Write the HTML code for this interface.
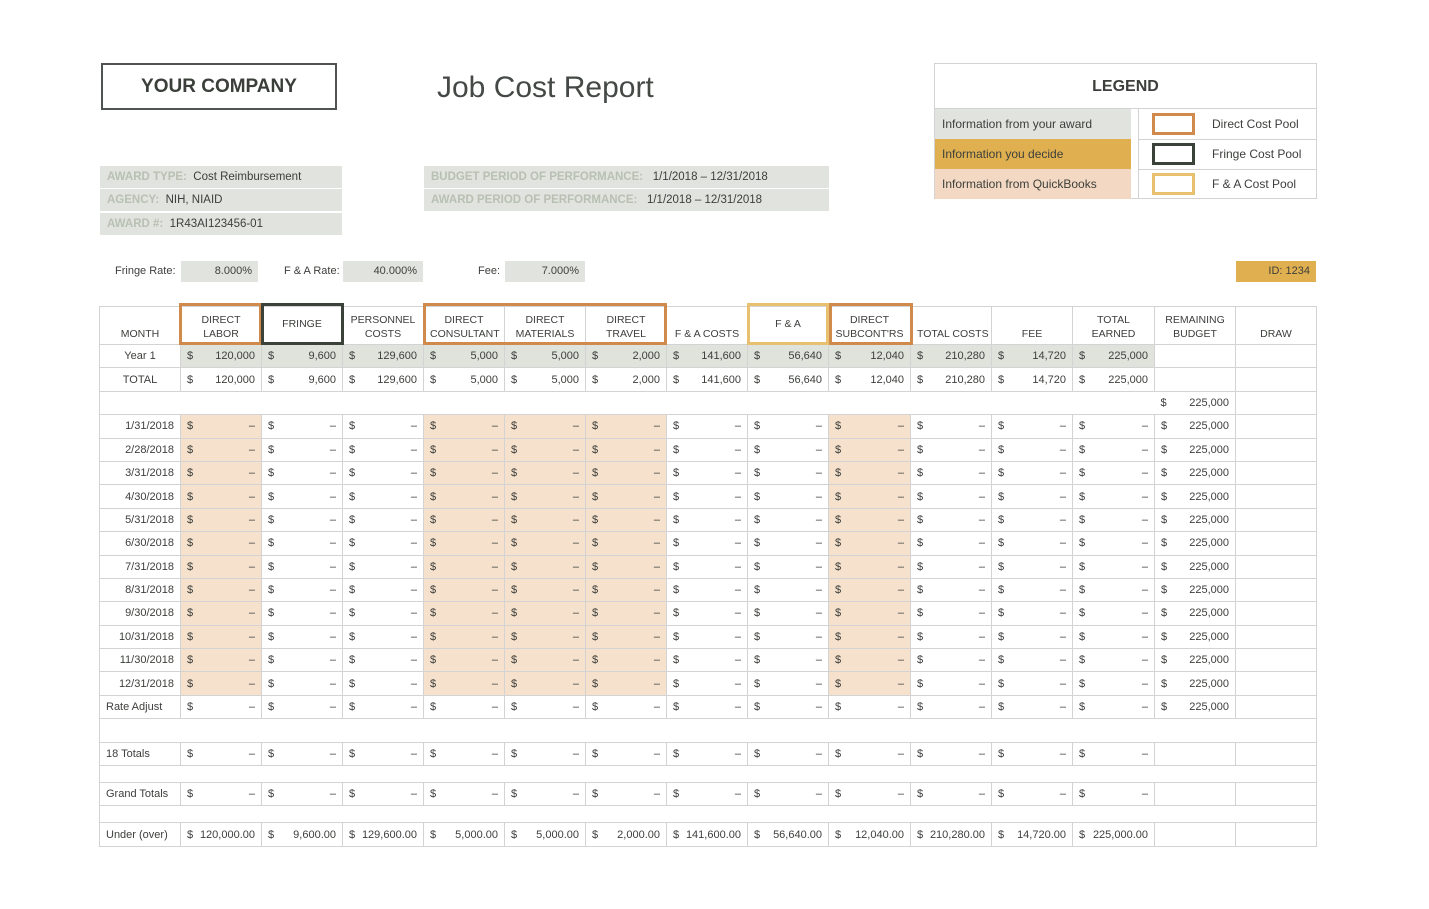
<!DOCTYPE html>
<html><head><meta charset="utf-8"><style>
*{box-sizing:border-box;margin:0;padding:0}
body{width:1429px;height:909px;background:#fff;position:relative;font-family:"Liberation Sans",sans-serif;color:#3c3f3b;overflow:hidden}
.abs{position:absolute}
.co{left:101px;top:63px;width:236px;height:47px;border:2px solid #505450;font-weight:bold;font-size:19px;text-align:center;line-height:43px;color:#3a3f3a}
.title{left:437px;top:71px;font-size:30px;color:#454945}
.info{background:#e1e3de;font-size:11.5px;line-height:22px;padding-left:7px;white-space:nowrap}
.info b{font-weight:bold;color:#b8c0b3}
.lbl{font-size:11px;line-height:21px}
.rb{background:#e1e3de;font-size:11px;line-height:21px;text-align:right;padding-right:6px}
table.m{position:absolute;left:99px;top:306px;width:1218px;border-collapse:collapse;table-layout:fixed;font-size:11px}
table.m td{border:1px solid #d3d3d3;text-align:right;padding:0 6px 0 6px;white-space:nowrap;overflow:hidden}
table.m td i{font-style:normal;float:left}
table.m td.l{text-align:left}
table.m td.c{text-align:center}
tr.h td{text-align:center;height:38px;font-size:10.5px;line-height:14px;vertical-align:bottom;padding-bottom:3px}
tr.r td{height:23.4px}
tr.g td.v{background:#dfe3dc}
td.p{background:#f6e1cd}
.box{position:absolute;border:3px solid #d08a4c}
.lg{left:934px;top:63px;width:383px;height:136px;border:1px solid #d3d3d3}
</style></head><body>
<div class="abs co">YOUR COMPANY</div>
<div class="abs title">Job Cost Report</div>

<div class="abs info" style="left:100px;top:166px;width:242px"><b>AWARD TYPE:</b>&nbsp; Cost Reimbursement</div>
<div class="abs info" style="left:100px;top:189px;width:242px"><b>AGENCY:</b>&nbsp; NIH, NIAID</div>
<div class="abs info" style="left:100px;top:213px;width:242px"><b>AWARD #:</b>&nbsp; 1R43AI123456-01</div>
<div class="abs info" style="left:424px;top:166px;width:405px"><b>BUDGET PERIOD OF PERFORMANCE:</b>&nbsp;&nbsp; 1/1/2018 – 12/31/2018</div>
<div class="abs info" style="left:424px;top:189px;width:405px"><b>AWARD PERIOD OF PERFORMANCE:</b>&nbsp;&nbsp; 1/1/2018 – 12/31/2018</div>

<div class="abs lbl" style="left:115px;top:261px">Fringe Rate:</div>
<div class="abs rb" style="left:181px;top:261px;width:77px">8.000%</div>
<div class="abs lbl" style="left:284px;top:261px">F &amp; A Rate:</div>
<div class="abs rb" style="left:343px;top:261px;width:80px">40.000%</div>
<div class="abs lbl" style="left:478px;top:261px">Fee:</div>
<div class="abs rb" style="left:505px;top:261px;width:80px">7.000%</div>
<div class="abs rb" style="left:1236px;top:261px;width:80px;background:#e0b050">ID: 1234</div>

<div class="abs lg">
 <div style="height:45px;text-align:center;line-height:45px;font-weight:bold;font-size:16px;border-bottom:1px solid #d3d3d3">LEGEND</div>
 <div class="abs" style="left:0;top:45px;width:196px;height:30px;background:#e1e3de;font-size:12px;line-height:30px;padding-left:7px">Information from your award</div>
 <div class="abs" style="left:0;top:75px;width:196px;height:30px;background:#e0b050;font-size:12px;line-height:30px;padding-left:7px">Information you decide</div>
 <div class="abs" style="left:0;top:105px;width:196px;height:30px;background:#f3d9c3;font-size:12px;line-height:30px;padding-left:7px">Information from QuickBooks</div>
 <div class="abs" style="left:203px;top:45px;width:1px;height:90px;background:#d3d3d3"></div>
 <div class="abs" style="left:203px;top:75px;width:179px;height:1px;background:#d3d3d3"></div>
 <div class="abs" style="left:203px;top:105px;width:179px;height:1px;background:#d3d3d3"></div>
 <div class="abs" style="left:217px;top:49px;width:43px;height:22px;border:3px solid #d08a4c"></div>
 <div class="abs" style="left:217px;top:79px;width:43px;height:22px;border:3px solid #3a4239"></div>
 <div class="abs" style="left:217px;top:109px;width:43px;height:22px;border:3px solid #e8c170"></div>
 <div class="abs" style="left:277px;top:45px;font-size:12px;line-height:30px">Direct Cost Pool</div>
 <div class="abs" style="left:277px;top:75px;font-size:12px;line-height:30px">Fringe Cost Pool</div>
 <div class="abs" style="left:277px;top:105px;font-size:12px;line-height:30px">F &amp; A Cost Pool</div>
</div>

<table class="m">
<colgroup><col style="width:81px"><col style="width:81px"><col style="width:81px"><col style="width:81px"><col style="width:81px"><col style="width:81px"><col style="width:81px"><col style="width:81px"><col style="width:81px"><col style="width:82px"><col style="width:81px"><col style="width:81px"><col style="width:82px"><col style="width:81px"><col style="width:81px"></colgroup>
<tr class="h"><td>MONTH</td><td>DIRECT<br>LABOR</td><td style="vertical-align:middle">FRINGE</td><td>PERSONNEL<br>COSTS</td><td>DIRECT<br>CONSULTANT</td><td>DIRECT<br>MATERIALS</td><td>DIRECT<br>TRAVEL</td><td>F &amp; A COSTS</td><td style="vertical-align:middle">F &amp; A</td><td>DIRECT<br>SUBCONT'RS</td><td>TOTAL COSTS</td><td>FEE</td><td>TOTAL<br>EARNED</td><td>REMAINING<br>BUDGET</td><td>DRAW</td></tr>
<tr class="r g"><td class="c">Year 1</td><td class="v"><i>$</i>120,000</td><td class="v"><i>$</i>9,600</td><td class="v"><i>$</i>129,600</td><td class="v"><i>$</i>5,000</td><td class="v"><i>$</i>5,000</td><td class="v"><i>$</i>2,000</td><td class="v"><i>$</i>141,600</td><td class="v"><i>$</i>56,640</td><td class="v"><i>$</i>12,040</td><td class="v"><i>$</i>210,280</td><td class="v"><i>$</i>14,720</td><td class="v"><i>$</i>225,000</td><td></td><td></td></tr>
<tr class="r"><td class="c">TOTAL</td><td><i>$</i>120,000</td><td><i>$</i>9,600</td><td><i>$</i>129,600</td><td><i>$</i>5,000</td><td><i>$</i>5,000</td><td><i>$</i>2,000</td><td><i>$</i>141,600</td><td><i>$</i>56,640</td><td><i>$</i>12,040</td><td><i>$</i>210,280</td><td><i>$</i>14,720</td><td><i>$</i>225,000</td><td></td><td></td></tr>
<tr class="r"><td colspan="13" style="border-left:1px solid #d3d3d3;border-right:none"></td><td style="border-left:none"><i>$</i>225,000</td><td></td></tr>
<tr class="r"><td>1/31/2018</td><td class="p"><i>$</i>–</td><td><i>$</i>–</td><td><i>$</i>–</td><td class="p"><i>$</i>–</td><td class="p"><i>$</i>–</td><td class="p"><i>$</i>–</td><td><i>$</i>–</td><td><i>$</i>–</td><td class="p"><i>$</i>–</td><td><i>$</i>–</td><td><i>$</i>–</td><td><i>$</i>–</td><td><i>$</i>225,000</td><td></td></tr>
<tr class="r"><td>2/28/2018</td><td class="p"><i>$</i>–</td><td><i>$</i>–</td><td><i>$</i>–</td><td class="p"><i>$</i>–</td><td class="p"><i>$</i>–</td><td class="p"><i>$</i>–</td><td><i>$</i>–</td><td><i>$</i>–</td><td class="p"><i>$</i>–</td><td><i>$</i>–</td><td><i>$</i>–</td><td><i>$</i>–</td><td><i>$</i>225,000</td><td></td></tr>
<tr class="r"><td>3/31/2018</td><td class="p"><i>$</i>–</td><td><i>$</i>–</td><td><i>$</i>–</td><td class="p"><i>$</i>–</td><td class="p"><i>$</i>–</td><td class="p"><i>$</i>–</td><td><i>$</i>–</td><td><i>$</i>–</td><td class="p"><i>$</i>–</td><td><i>$</i>–</td><td><i>$</i>–</td><td><i>$</i>–</td><td><i>$</i>225,000</td><td></td></tr>
<tr class="r"><td>4/30/2018</td><td class="p"><i>$</i>–</td><td><i>$</i>–</td><td><i>$</i>–</td><td class="p"><i>$</i>–</td><td class="p"><i>$</i>–</td><td class="p"><i>$</i>–</td><td><i>$</i>–</td><td><i>$</i>–</td><td class="p"><i>$</i>–</td><td><i>$</i>–</td><td><i>$</i>–</td><td><i>$</i>–</td><td><i>$</i>225,000</td><td></td></tr>
<tr class="r"><td>5/31/2018</td><td class="p"><i>$</i>–</td><td><i>$</i>–</td><td><i>$</i>–</td><td class="p"><i>$</i>–</td><td class="p"><i>$</i>–</td><td class="p"><i>$</i>–</td><td><i>$</i>–</td><td><i>$</i>–</td><td class="p"><i>$</i>–</td><td><i>$</i>–</td><td><i>$</i>–</td><td><i>$</i>–</td><td><i>$</i>225,000</td><td></td></tr>
<tr class="r"><td>6/30/2018</td><td class="p"><i>$</i>–</td><td><i>$</i>–</td><td><i>$</i>–</td><td class="p"><i>$</i>–</td><td class="p"><i>$</i>–</td><td class="p"><i>$</i>–</td><td><i>$</i>–</td><td><i>$</i>–</td><td class="p"><i>$</i>–</td><td><i>$</i>–</td><td><i>$</i>–</td><td><i>$</i>–</td><td><i>$</i>225,000</td><td></td></tr>
<tr class="r"><td>7/31/2018</td><td class="p"><i>$</i>–</td><td><i>$</i>–</td><td><i>$</i>–</td><td class="p"><i>$</i>–</td><td class="p"><i>$</i>–</td><td class="p"><i>$</i>–</td><td><i>$</i>–</td><td><i>$</i>–</td><td class="p"><i>$</i>–</td><td><i>$</i>–</td><td><i>$</i>–</td><td><i>$</i>–</td><td><i>$</i>225,000</td><td></td></tr>
<tr class="r"><td>8/31/2018</td><td class="p"><i>$</i>–</td><td><i>$</i>–</td><td><i>$</i>–</td><td class="p"><i>$</i>–</td><td class="p"><i>$</i>–</td><td class="p"><i>$</i>–</td><td><i>$</i>–</td><td><i>$</i>–</td><td class="p"><i>$</i>–</td><td><i>$</i>–</td><td><i>$</i>–</td><td><i>$</i>–</td><td><i>$</i>225,000</td><td></td></tr>
<tr class="r"><td>9/30/2018</td><td class="p"><i>$</i>–</td><td><i>$</i>–</td><td><i>$</i>–</td><td class="p"><i>$</i>–</td><td class="p"><i>$</i>–</td><td class="p"><i>$</i>–</td><td><i>$</i>–</td><td><i>$</i>–</td><td class="p"><i>$</i>–</td><td><i>$</i>–</td><td><i>$</i>–</td><td><i>$</i>–</td><td><i>$</i>225,000</td><td></td></tr>
<tr class="r"><td>10/31/2018</td><td class="p"><i>$</i>–</td><td><i>$</i>–</td><td><i>$</i>–</td><td class="p"><i>$</i>–</td><td class="p"><i>$</i>–</td><td class="p"><i>$</i>–</td><td><i>$</i>–</td><td><i>$</i>–</td><td class="p"><i>$</i>–</td><td><i>$</i>–</td><td><i>$</i>–</td><td><i>$</i>–</td><td><i>$</i>225,000</td><td></td></tr>
<tr class="r"><td>11/30/2018</td><td class="p"><i>$</i>–</td><td><i>$</i>–</td><td><i>$</i>–</td><td class="p"><i>$</i>–</td><td class="p"><i>$</i>–</td><td class="p"><i>$</i>–</td><td><i>$</i>–</td><td><i>$</i>–</td><td class="p"><i>$</i>–</td><td><i>$</i>–</td><td><i>$</i>–</td><td><i>$</i>–</td><td><i>$</i>225,000</td><td></td></tr>
<tr class="r"><td>12/31/2018</td><td class="p"><i>$</i>–</td><td><i>$</i>–</td><td><i>$</i>–</td><td class="p"><i>$</i>–</td><td class="p"><i>$</i>–</td><td class="p"><i>$</i>–</td><td><i>$</i>–</td><td><i>$</i>–</td><td class="p"><i>$</i>–</td><td><i>$</i>–</td><td><i>$</i>–</td><td><i>$</i>–</td><td><i>$</i>225,000</td><td></td></tr>
<tr class="r"><td class="l">Rate Adjust</td><td><i>$</i>–</td><td><i>$</i>–</td><td><i>$</i>–</td><td><i>$</i>–</td><td><i>$</i>–</td><td><i>$</i>–</td><td><i>$</i>–</td><td><i>$</i>–</td><td><i>$</i>–</td><td><i>$</i>–</td><td><i>$</i>–</td><td><i>$</i>–</td><td><i>$</i>225,000</td><td></td></tr>
<tr class="r"><td colspan="15"></td></tr>
<tr class="r"><td class="l">18 Totals</td><td><i>$</i>–</td><td><i>$</i>–</td><td><i>$</i>–</td><td><i>$</i>–</td><td><i>$</i>–</td><td><i>$</i>–</td><td><i>$</i>–</td><td><i>$</i>–</td><td><i>$</i>–</td><td><i>$</i>–</td><td><i>$</i>–</td><td><i>$</i>–</td><td></td><td></td></tr>
<tr><td colspan="15" style="height:17px"></td></tr>
<tr class="r"><td class="l">Grand Totals</td><td><i>$</i>–</td><td><i>$</i>–</td><td><i>$</i>–</td><td><i>$</i>–</td><td><i>$</i>–</td><td><i>$</i>–</td><td><i>$</i>–</td><td><i>$</i>–</td><td><i>$</i>–</td><td><i>$</i>–</td><td><i>$</i>–</td><td><i>$</i>–</td><td></td><td></td></tr>
<tr><td colspan="15" style="height:17px"></td></tr>
<tr class="r"><td class="l">Under (over)</td><td><i>$</i>120,000.00</td><td><i>$</i>9,600.00</td><td><i>$</i>129,600.00</td><td><i>$</i>5,000.00</td><td><i>$</i>5,000.00</td><td><i>$</i>2,000.00</td><td><i>$</i>141,600.00</td><td><i>$</i>56,640.00</td><td><i>$</i>12,040.00</td><td><i>$</i>210,280.00</td><td><i>$</i>14,720.00</td><td><i>$</i>225,000.00</td><td></td><td></td></tr>
</table>

<div class="box" style="left:179px;top:303px;width:83px;height:42px"></div>
<div class="box" style="left:261px;top:303px;width:83px;height:42px;border-color:#3a4239"></div>
<div class="box" style="left:423px;top:303px;width:244px;height:42px"></div>
<div class="box" style="left:747px;top:303px;width:82px;height:42px;border-color:#e8c170"></div>
<div class="box" style="left:829px;top:303px;width:84px;height:42px"></div>
</body></html>
